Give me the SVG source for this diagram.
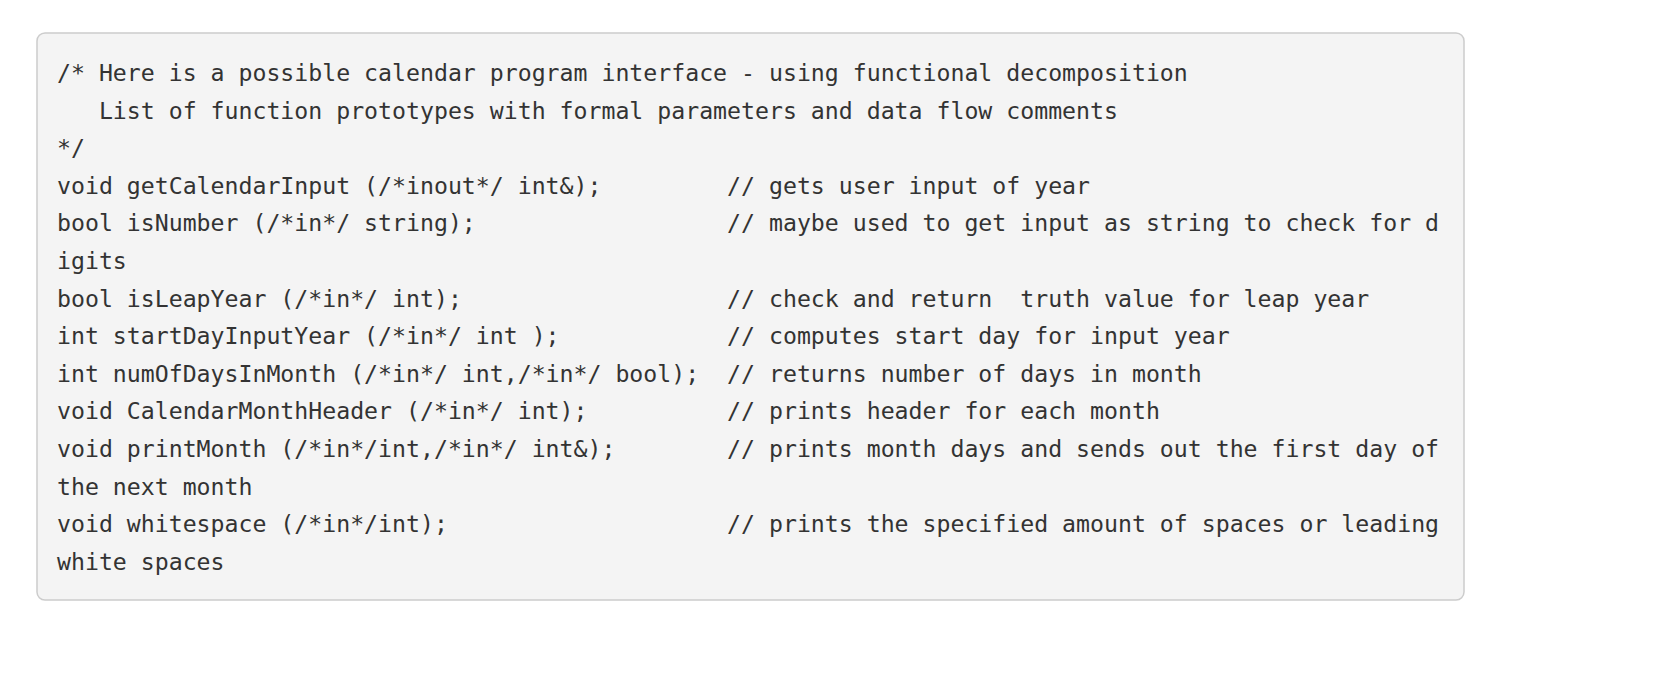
<svg xmlns="http://www.w3.org/2000/svg" width="1666" height="675" viewBox="0 0 1666 675">
<style>
.c{font-family:"DejaVu Sans Mono","Liberation Mono",monospace;font-size:23.2px;fill:#333;white-space:pre}
</style>
<rect width="1666" height="675" fill="#fff"/>
<g id="codeblock">
<rect x="37" y="33" width="1427" height="567" rx="8" fill="#f4f4f4" stroke="#cccccc" stroke-width="1.5"/>
<text class="c" xml:space="preserve">
<tspan x="57" y="81">/* Here is a possible calendar program interface - using functional decomposition</tspan>
<tspan x="57" y="118.6">   List of function prototypes with formal parameters and data flow comments</tspan>
<tspan x="57" y="156.2">*/</tspan>
<tspan x="57" y="193.8">void getCalendarInput (/*inout*/ int&amp;);         // gets user input of year</tspan>
<tspan x="57" y="231.4">bool isNumber (/*in*/ string);                  // maybe used to get input as string to check for d</tspan>
<tspan x="57" y="269">igits</tspan>
<tspan x="57" y="306.6">bool isLeapYear (/*in*/ int);                   // check and return  truth value for leap year</tspan>
<tspan x="57" y="344.2">int startDayInputYear (/*in*/ int );            // computes start day for input year</tspan>
<tspan x="57" y="381.8">int numOfDaysInMonth (/*in*/ int,/*in*/ bool);  // returns number of days in month</tspan>
<tspan x="57" y="419.4">void CalendarMonthHeader (/*in*/ int);          // prints header for each month</tspan>
<tspan x="57" y="457">void printMonth (/*in*/int,/*in*/ int&amp;);        // prints month days and sends out the first day of</tspan>
<tspan x="57" y="494.6">the next month</tspan>
<tspan x="57" y="532.2">void whitespace (/*in*/int);                    // prints the specified amount of spaces or leading</tspan>
<tspan x="57" y="569.8">white spaces</tspan>
</text>
</g>
</svg>
